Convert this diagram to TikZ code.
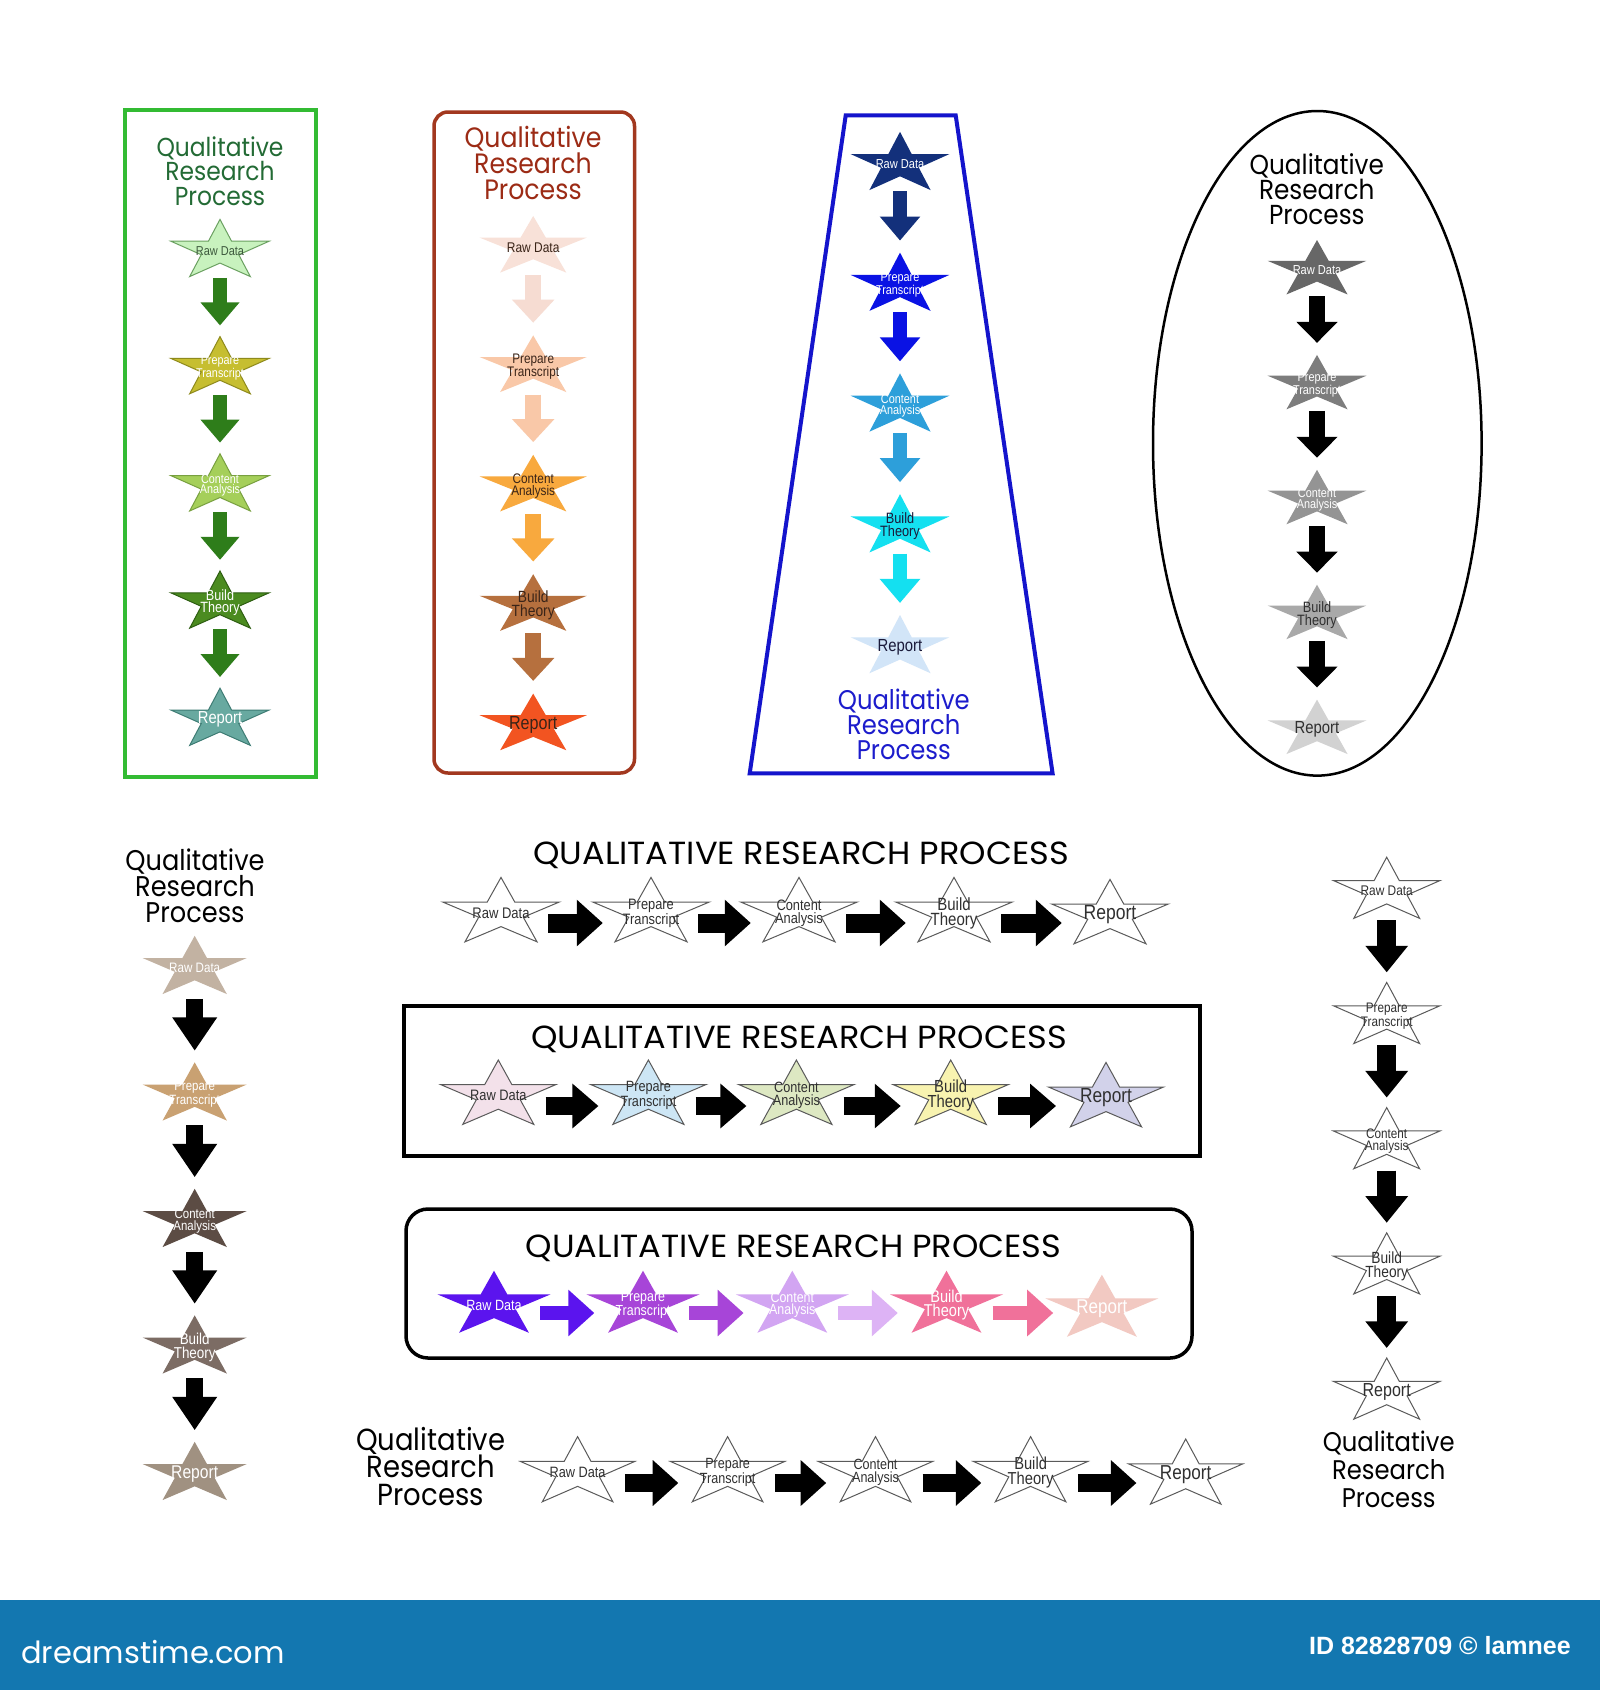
\documentclass[tikz,border=0pt]{standalone}
\usepackage{fontspec}
\setmainfont{Liberation Sans}
\newfontfamily\lblfont[FakeStretch=0.85]{Liberation Sans}
\newfontfamily\ttlfont[FakeStretch=0.9]{Poppins}
\newfontfamily\hdfont[FakeStretch=1.05]{Poppins}
\newfontfamily\logofont{Poppins}
\usetikzlibrary{arrows.meta}

% group colours
\definecolor{gbox}{HTML}{33BB33}\definecolor{gtitle}{HTML}{236B35}
\definecolor{gRaw}{HTML}{C8F2BE}\definecolor{gRawD}{HTML}{6AA060}\definecolor{gRawT}{HTML}{3E5A3E}
\definecolor{gPrep}{HTML}{C6BE30}\definecolor{gPrepD}{HTML}{8E8A1C}
\definecolor{gCont}{HTML}{A5CF5A}\definecolor{gContD}{HTML}{78A040}
\definecolor{gBuild}{HTML}{4B8B20}\definecolor{gBuildD}{HTML}{2E5E12}
\definecolor{gRep}{HTML}{68A9A0}\definecolor{gRepD}{HTML}{3E7C74}
\definecolor{gArrow}{HTML}{2E7D1A}
\definecolor{obox}{HTML}{A2381F}\definecolor{otitle}{HTML}{9C2B15}
\definecolor{oRaw}{HTML}{F8E1D8}\definecolor{oPrep}{HTML}{F9C8A8}\definecolor{oCont}{HTML}{F8A93E}
\definecolor{oBuild}{HTML}{B6703E}\definecolor{oRep}{HTML}{F25421}
\definecolor{oA1}{HTML}{F6DCD2}\definecolor{oTxt}{HTML}{3A2418}
\definecolor{bbox}{HTML}{1414CC}\definecolor{btitle}{HTML}{1C1CCC}
\definecolor{bRaw}{HTML}{13307B}\definecolor{bPrep}{HTML}{0A12E4}\definecolor{bCont}{HTML}{2D9FDA}
\definecolor{bBuild}{HTML}{14E0F0}\definecolor{bRep}{HTML}{D2E5F8}\definecolor{bTxt}{HTML}{1A1A3A}
\definecolor{eRaw}{HTML}{676767}\definecolor{ePrep}{HTML}{7D7D7D}\definecolor{eCont}{HTML}{949494}
\definecolor{eBuild}{HTML}{A9A9A9}\definecolor{eRep}{HTML}{D2D2D2}
\definecolor{lRaw}{HTML}{C2B2A2}\definecolor{lPrep}{HTML}{C9A172}\definecolor{lCont}{HTML}{5C4C44}
\definecolor{lBuild}{HTML}{7C6C64}\definecolor{lRep}{HTML}{A09181}
\definecolor{pRaw}{HTML}{F3E1EA}\definecolor{pPrep}{HTML}{CDE6F5}\definecolor{pCont}{HTML}{DDE8C2}
\definecolor{pBuild}{HTML}{F8F3B0}\definecolor{pRep}{HTML}{D2D2EA}
\definecolor{vRaw}{HTML}{5B14EE}\definecolor{vPrep}{HTML}{A745D8}\definecolor{vCont}{HTML}{D2A5F2}
\definecolor{vBuild}{HTML}{F0719A}\definecolor{vRep}{HTML}{F2C9C2}\definecolor{vA3}{HTML}{DDB3F5}
\definecolor{outl}{HTML}{5A5A5A}\definecolor{dtxt}{HTML}{303030}
\definecolor{footer}{HTML}{1377B0}

\tikzset{
  starlbl/.style={inner sep=0, align=center},
  ttl/.style={inner sep=0, align=center, anchor=base},
  hd/.style={inner sep=0, anchor=base, font=\hdfont\fontsize{32}{32}\selectfont}
}

% star: name, centre, fill, outline, text colour, font size, label
\newcommand\qstar[7]{%
  \pgfmathsetmacro\fsz{#6*\rx/52}%
  \pgfmathsetmacro\bsz{0.85*\fsz}%
  \path[fill=#3, draw=#4, line width=1pt, shift={#2}, xscale=\rx, yscale=\ry]
    (-90:1) \foreach \k in {1,...,9}{ -- ({-90+36*\k}:{mod(\k,2)==1 ? 0.382 : 1}) } -- cycle;
  \node[starlbl, text=#5, font=\lblfont\fontsize{\fsz}{\bsz}\selectfont,
        minimum width={1.902*\rx}, minimum height={1.618*\ry}] (#1) at #2 {#7};
}

\begin{document}
\begin{tikzpicture}[x=1pt, y=-1pt]

        \useasboundingbox (0,0) rectangle (1600,1690);
        \fill[white] (0,0) rectangle (1600,1690);

        % green box
        \draw[gbox, line width=3.5] (125,110) rectangle (316,777);
        \node[ttl, text=gtitle, font=\ttlfont\fontsize{26}{24.5}\selectfont] (tg) at (220,205) {Qualitative\\Research\\Process};
        \begin{scope}
          \def\rx{51.6}\def\ry{31.6}
          \qstar{g1}{(220,251)}{gRaw}{gRawD}{gRawT}{13}{Raw Data}
          \qstar{g2}{(220,368.2)}{gPrep}{gPrepD}{white}{12.8}{Prepare\\Transcript}
          \qstar{g3}{(220,485.4)}{gCont}{gContD}{white}{12.8}{Content\\Analysis}
          \qstar{g4}{(220,602.6)}{gBuild}{gBuildD}{white}{15}{Build\\Theory}
          \qstar{g5}{(220,719.8)}{gRep}{gRepD}{white}{17.5}{Report}
        \end{scope}
        \begin{scope}[every edge/.style={draw=gArrow, line width=14, -{Triangle[width=37.5pt,length=23pt]}, shorten <=1pt, shorten >=17pt}]
          \path (g1.south) edge (g2.north);
          \path (g2.south) edge (g3.north);
          \path (g3.south) edge (g4.north);
          \path (g4.south) edge (g5.north);
        \end{scope}

        % orange box
        \draw[obox, line width=3.5, rounded corners=14] (434,112) rectangle (634.5,773);
        \node[ttl, text=otitle, font=\ttlfont\fontsize{28}{26}\selectfont] (to) at (533,199) {Qualitative\\Research\\Process};
        \begin{scope}
          \def\rx{56.3}\def\ry{31.3}
          \qstar{o1}{(533.2,247.3)}{oRaw}{none}{oTxt}{13}{Raw Data}
          \qstar{o2}{(533.2,366.7)}{oPrep}{none}{oTxt}{12.8}{Prepare\\Transcript}
          \qstar{o3}{(533.2,486.1)}{oCont}{none}{oTxt}{12.8}{Content\\Analysis}
          \qstar{o4}{(533.2,605.5)}{oBuild}{none}{oTxt}{15}{Build\\Theory}
          \qstar{o5}{(533.2,724.9)}{oRep}{none}{oTxt}{17.5}{Report}
        \end{scope}
        \begin{scope}[every edge/.style={draw, line width=16, -{Triangle[width=41pt,length=23pt]}, shorten <=2.4pt, shorten >=18.5pt}]
          \path (o1.south) edge[oA1] (o2.north);
          \path (o2.south) edge[oPrep] (o3.north);
          \path (o3.south) edge[oCont] (o4.north);
          \path (o4.south) edge[oBuild] (o5.north);
        \end{scope}

        % blue trapezoid
        \draw[bbox, line width=4] (845.7,115.4) -- (955.7,115.4) -- (1052.6,773.4) -- (749.7,773.4) -- cycle;
        \node[ttl, text=btitle, font=\ttlfont\fontsize{27}{25}\selectfont] (tb) at (903.8,759) {Qualitative\\Research\\Process};
        \begin{scope}
          \def\rx{52}\def\ry{32.2}
          \qstar{b1}{(900,164)}{bRaw}{none}{white}{13}{Raw Data}
          \qstar{b2}{(900,284.8)}{bPrep}{none}{white}{12.8}{Prepare\\Transcript}
          \qstar{b3}{(900,405.6)}{bCont}{none}{white}{12.8}{Content\\Analysis}
          \qstar{b4}{(900,526.4)}{bBuild}{none}{bTxt}{15}{Build\\Theory}
          \qstar{b5}{(900,647.2)}{bRep}{none}{bTxt}{17.5}{Report}
        \end{scope}
        \begin{scope}[every edge/.style={draw, line width=14.5, -{Triangle[width=39pt,length=24pt]}, shorten <=1pt, shorten >=18pt}]
          \path (b1.south) edge[bRaw] (b2.north);
          \path (b2.south) edge[bPrep] (b3.north);
          \path (b3.south) edge[bCont] (b4.north);
          \path (b4.south) edge[bBuild] (b5.north);
        \end{scope}

        % ellipse
        \draw[black, line width=2.5] (1317.3,443.3) ellipse [x radius=164.3, y radius=332.3];
        \node[ttl, text=black, font=\ttlfont\fontsize{27.5}{24.6}\selectfont] (te) at (1316.8,224) {Qualitative\\Research\\Process};
        \begin{scope}
          \def\rx{52}\def\ry{30.1}
          \qstar{e1}{(1317,270.1)}{eRaw}{none}{white}{13}{Raw Data}
          \qstar{e2}{(1317,385)}{ePrep}{none}{white}{12.8}{Prepare\\Transcript}
          \qstar{e3}{(1317,499.9)}{eCont}{none}{white}{12.8}{Content\\Analysis}
          \qstar{e4}{(1317,614.8)}{eBuild}{none}{dtxt}{15}{Build\\Theory}
          \qstar{e5}{(1317,729.7)}{eRep}{none}{dtxt}{17.5}{Report}
        \end{scope}
        \begin{scope}[every edge/.style={draw=black, line width=15.5, -{Triangle[width=40pt,length=21pt]}, shorten <=1.4pt, shorten >=17.6pt}]
          \path (e1.south) edge (e2.north);
          \path (e2.south) edge (e3.north);
          \path (e3.south) edge (e4.north);
          \path (e4.south) edge (e5.north);
        \end{scope}

        % left column
        \node[ttl, text=black, font=\ttlfont\fontsize{28.5}{26}\selectfont] (tl) at (195,922) {Qualitative\\Research\\Process};
        \begin{scope}
          \def\rx{54.7}\def\ry{32.2}
          \qstar{l1}{(194.7,968)}{lRaw}{none}{white}{13}{Raw Data}
          \qstar{l2}{(194.7,1094.5)}{lPrep}{none}{white}{12.8}{Prepare\\Transcript}
          \qstar{l3}{(194.7,1221)}{lCont}{none}{white}{12.8}{Content\\Analysis}
          \qstar{l4}{(194.7,1347.5)}{lBuild}{none}{white}{15}{Build\\Theory}
          \qstar{l5}{(194.7,1474)}{lRep}{none}{white}{17.5}{Report}
        \end{scope}
        \begin{scope}[every edge/.style={draw=black, line width=17, -{Triangle[width=42.7pt,length=33.5pt]}, shorten <=4.7pt, shorten >=17.5pt}]
          \path (l1.south) edge (l2.north);
          \path (l2.south) edge (l3.north);
          \path (l3.south) edge (l4.north);
          \path (l4.south) edge (l5.north);
        \end{scope}

        % row 1, no frame
        \node[hd] (h1) at (801,864) {QUALITATIVE RESEARCH PROCESS};
        \begin{scope}
          \def\rx{61.3}\def\ry{35.6}
          \qstar{a1}{(501,913)}{white}{outl}{dtxt}{13}{Raw Data}
          \qstar{a2}{(651,913)}{white}{outl}{dtxt}{12.8}{Prepare\\Transcript}
          \qstar{a3}{(799,913)}{white}{outl}{dtxt}{12.8}{Content\\Analysis}
          \qstar{a4}{(954,913)}{white}{outl}{dtxt}{15}{Build\\Theory}
          \qstar{a5}{(1110,915)}{white}{outl}{dtxt}{17.5}{Report}
        \end{scope}
        \begin{scope}[every edge/.style={draw=black, line width=19, -{Triangle[width=45pt,length=26pt]}, shorten <=-11.3pt, shorten >=-10.3pt}]
          \path ([yshift=-10pt]a1.east) edge ([yshift=-10pt]a2.west);
          \path ([yshift=-10pt]a2.east) edge ([yshift=-10pt]a3.west);
          \path ([yshift=-10pt]a3.east) edge ([yshift=-10pt]a4.west);
          \path ([yshift=-10pt]a4.east) edge ([yshift=-10pt]a4.east -| a5.west);
        \end{scope}

        % row 2, framed
        \draw[black, line width=3.5] (404,1006) rectangle (1200,1156);
        \node[hd] (h2) at (799,1048.7) {QUALITATIVE RESEARCH PROCESS};
        \begin{scope}
          \def\rx{60.5}\def\ry{35.6}
          \qstar{p1}{(498.3,1095.6)}{pRaw}{outl}{dtxt}{13}{Raw Data}
          \qstar{p2}{(648.4,1095.6)}{pPrep}{outl}{dtxt}{12.8}{Prepare\\Transcript}
          \qstar{p3}{(796.4,1095.6)}{pCont}{outl}{dtxt}{12.8}{Content\\Analysis}
          \qstar{p4}{(950.7,1095.6)}{pBuild}{outl}{dtxt}{15}{Build\\Theory}
          \qstar{p5}{(1106,1098)}{pRep}{outl}{dtxt}{17.5}{Report}
        \end{scope}
        \begin{scope}[every edge/.style={draw=black, line width=18, -{Triangle[width=43pt,length=26pt]}, shorten <=-10.4pt, shorten >=-7.8pt}]
          \path ([yshift=-10.4pt]p1.east) edge ([yshift=-10.4pt]p2.west);
          \path ([yshift=-10.4pt]p2.east) edge ([yshift=-10.4pt]p3.west);
          \path ([yshift=-10.4pt]p3.east) edge ([yshift=-10.4pt]p4.west);
          \path ([yshift=-10.4pt]p4.east) edge ([yshift=-10.4pt]p4.east -| p5.west);
        \end{scope}

        % row 3, rounded frame
        \draw[black, line width=3.5, rounded corners=22] (406,1209) rectangle (1192,1358);
        \node[hd] (h3) at (793.6,1257) {QUALITATIVE RESEARCH PROCESS};
        \begin{scope}
          \def\rx{59.4}\def\ry{34.3}
          \qstar{v1}{(494,1305)}{vRaw}{none}{white}{13}{Raw Data}
          \qstar{v2}{(643,1305)}{vPrep}{none}{white}{12.8}{Prepare\\Transcript}
          \qstar{v3}{(792.3,1305)}{vCont}{none}{white}{12.8}{Content\\Analysis}
          \qstar{v4}{(946.5,1305)}{vBuild}{none}{white}{15}{Build\\Theory}
          \qstar{v5}{(1101.9,1309)}{vRep}{none}{white}{17.5}{Report}
        \end{scope}
        \begin{scope}[every edge/.style={draw, line width=14.7, -{Triangle[width=45pt,length=26pt]}, shorten <=-10.5pt, shorten >=-8pt}]
          \path ([yshift=-8pt]v1.east) edge[vRaw] ([yshift=-8pt]v2.west);
          \path ([yshift=-8pt]v2.east) edge[vPrep] ([yshift=-8pt]v3.west);
          \path ([yshift=-8pt]v3.east) edge[vA3] ([yshift=-8pt]v4.west);
          \path ([yshift=-8pt]v4.east) edge[vBuild] ([yshift=-8pt]v4.east -| v5.west);
        \end{scope}

        % bottom row
        \node[ttl, text=black, font=\ttlfont\fontsize{30.5}{27.5}\selectfont] (tw) at (430.7,1505) {Qualitative\\Research\\Process};
        \begin{scope}
          \def\rx{60}\def\ry{36}
          \qstar{w1}{(577.6,1472.6)}{white}{outl}{dtxt}{13}{Raw Data}
          \qstar{w2}{(727.6,1472.6)}{white}{outl}{dtxt}{12.8}{Prepare\\Transcript}
          \qstar{w3}{(875.5,1472.6)}{white}{outl}{dtxt}{12.8}{Content\\Analysis}
          \qstar{w4}{(1030.6,1472.6)}{white}{outl}{dtxt}{15}{Build\\Theory}
          \qstar{w5}{(1185.7,1475)}{white}{outl}{dtxt}{17.5}{Report}
        \end{scope}
        \begin{scope}[every edge/.style={draw=black, line width=17.7, -{Triangle[width=44.3pt,length=25.6pt]}, shorten <=-10.1pt, shorten >=-8pt}]
          \path ([yshift=-10.4pt]w1.east) edge ([yshift=-10.4pt]w2.west);
          \path ([yshift=-10.4pt]w2.east) edge ([yshift=-10.4pt]w3.west);
          \path ([yshift=-10.4pt]w3.east) edge ([yshift=-10.4pt]w4.west);
          \path ([yshift=-10.4pt]w4.east) edge ([yshift=-10.4pt]w4.east -| w5.west);
        \end{scope}

        % right column
        \node[ttl, text=black, font=\ttlfont\fontsize{27}{28}\selectfont] (tr) at (1388.7,1507.6) {Qualitative\\Research\\Process};
        \begin{scope}
          \def\rx{56}\def\ry{33.8}
          \qstar{r1}{(1386.7,891)}{white}{outl}{dtxt}{13}{Raw Data}
          \qstar{r2}{(1386.7,1016.2)}{white}{outl}{dtxt}{12.8}{Prepare\\Transcript}
          \qstar{r3}{(1386.7,1141.4)}{white}{outl}{dtxt}{12.8}{Content\\Analysis}
          \qstar{r4}{(1386.7,1266.6)}{white}{outl}{dtxt}{15}{Build\\Theory}
          \qstar{r5}{(1386.7,1391.8)}{white}{outl}{dtxt}{17.5}{Report}
        \end{scope}
        \begin{scope}[every edge/.style={draw=black, line width=19, -{Triangle[width=41pt,length=26.6pt]}, shorten <=1.7pt, shorten >=16.3pt}]
          \path (r1.south) edge (r2.north);
          \path (r2.south) edge (r3.north);
          \path (r3.south) edge (r4.north);
          \path (r4.south) edge (r5.north);
        \end{scope}

        % footer band
        \fill[footer] (0,1600) rectangle (1600,1690);
        \node[anchor=base west, inner sep=0, text=white, font=\logofont\fontsize{30.5}{31}\selectfont] (logo) at (21,1663) {dreamstime.com};
        \node[anchor=base east, inner sep=0, text=white, font=\bfseries\fontsize{25}{25}\selectfont] (imgid) at (1571,1654) {ID 82828709 © lamnee};

      \end{tikzpicture}
\end{document}
